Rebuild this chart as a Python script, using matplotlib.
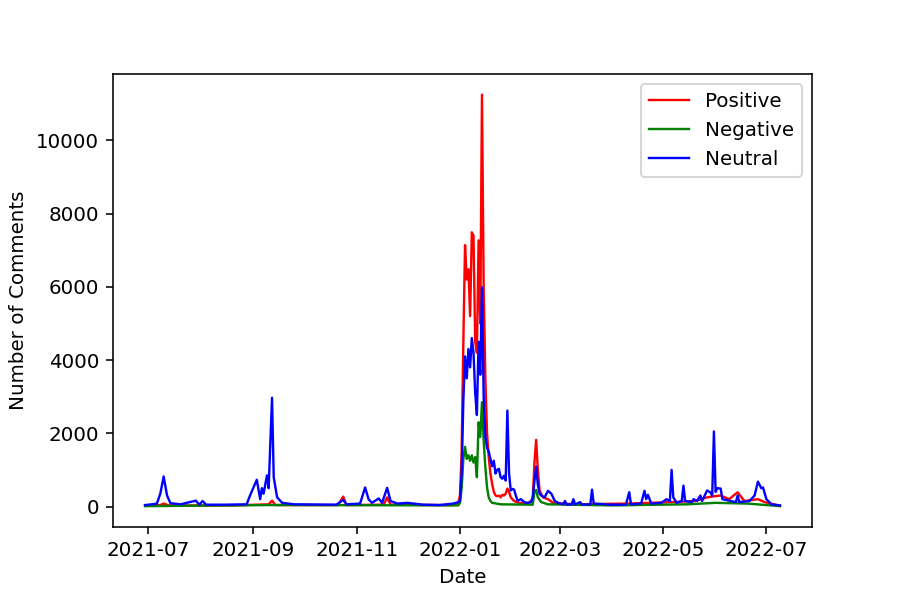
import matplotlib.pyplot as plt
import pandas as pd

# key points (date, comments per day)
neu_dates = ["2021-06-29", "2021-07-03", "2021-07-06", "2021-07-08", "2021-07-10", "2021-07-12",
             "2021-07-14", "2021-07-20", "2021-07-29", "2021-07-31", "2021-08-02", "2021-08-04",
             "2021-08-15", "2021-08-28", "2021-08-30", "2021-09-03", "2021-09-05", "2021-09-06",
             "2021-09-07", "2021-09-09", "2021-09-10", "2021-09-12", "2021-09-13", "2021-09-15",
             "2021-09-18", "2021-09-25", "2021-10-20", "2021-10-24", "2021-10-26", "2021-11-03",
             "2021-11-06", "2021-11-08", "2021-11-10", "2021-11-14", "2021-11-16", "2021-11-19",
             "2021-11-21", "2021-11-25", "2021-12-01", "2021-12-10", "2021-12-20", "2021-12-28",
             "2021-12-31", "2022-01-01", "2022-01-02", "2022-01-03", "2022-01-04", "2022-01-05",
             "2022-01-06", "2022-01-07", "2022-01-08", "2022-01-09", "2022-01-10", "2022-01-11",
             "2022-01-12", "2022-01-13", "2022-01-14", "2022-01-15", "2022-01-16", "2022-01-17",
             "2022-01-18", "2022-01-19", "2022-01-20", "2022-01-21", "2022-01-22", "2022-01-23",
             "2022-01-24", "2022-01-25", "2022-01-26", "2022-01-27", "2022-01-28", "2022-01-29",
             "2022-01-30", "2022-01-31", "2022-02-01", "2022-02-02", "2022-02-03", "2022-02-04",
             "2022-02-06", "2022-02-08", "2022-02-10", "2022-02-12", "2022-02-13", "2022-02-14",
             "2022-02-15", "2022-02-16", "2022-02-17", "2022-02-18", "2022-02-20", "2022-02-22",
             "2022-02-24", "2022-02-26", "2022-03-01", "2022-03-03", "2022-03-04", "2022-03-05",
             "2022-03-08", "2022-03-09", "2022-03-10", "2022-03-13", "2022-03-14", "2022-03-19",
             "2022-03-20", "2022-03-21", "2022-03-31", "2022-04-09", "2022-04-11", "2022-04-12",
             "2022-04-18", "2022-04-20", "2022-04-21", "2022-04-22", "2022-04-24", "2022-04-30",
             "2022-05-03", "2022-05-05", "2022-05-06", "2022-05-07", "2022-05-09", "2022-05-12",
             "2022-05-13", "2022-05-14", "2022-05-18", "2022-05-19", "2022-05-21", "2022-05-23",
             "2022-05-24", "2022-05-27", "2022-05-29", "2022-05-30", "2022-05-31", "2022-06-01",
             "2022-06-02", "2022-06-04", "2022-06-05", "2022-06-10", "2022-06-13", "2022-06-14",
             "2022-06-15", "2022-06-21", "2022-06-24", "2022-06-26", "2022-06-28", "2022-06-29",
             "2022-07-01", "2022-07-04", "2022-07-09"]
neu_vals = [40, 60, 80, 350, 820, 300,
            90, 60, 160, 50, 150, 50,
            50, 60, 300, 730, 200, 500,
            350, 850, 500, 2970, 800, 250,
            100, 60, 50, 180, 60, 80,
            520, 200, 100, 220, 100, 510,
            150, 80, 100, 50, 40, 80,
            120, 150, 900, 2900, 4100, 3500,
            4300, 3800, 4600, 4200, 3100, 2500,
            4500, 3600, 5990, 3000, 1900, 1600,
            1500, 1300, 1100, 1250, 900, 1000,
            1030, 800, 760, 840, 710, 2620,
            900, 440, 480, 460, 300, 160,
            200, 120, 100, 120, 250, 700,
            1090, 600, 350, 300, 250, 430,
            350, 150, 80, 60, 150, 50,
            60, 200, 60, 120, 50, 60,
            460, 80, 50, 50, 390, 60,
            80, 430, 200, 320, 80, 100,
            200, 150, 1000, 250, 100, 150,
            570, 150, 120, 200, 150, 300,
            150, 440, 380, 300, 2050, 400,
            500, 490, 200, 150, 120, 300,
            120, 150, 300, 680, 500, 520,
            200, 60, 30]

pos_dates = ["2021-06-29", "2021-07-08", "2021-07-10", "2021-07-13", "2021-08-20", "2021-09-10",
             "2021-09-12", "2021-09-14", "2021-10-21", "2021-10-24", "2021-10-26", "2021-11-17",
             "2021-11-19", "2021-11-21", "2021-12-28", "2021-12-31", "2022-01-01", "2022-01-02",
             "2022-01-03", "2022-01-04", "2022-01-05", "2022-01-06", "2022-01-07", "2022-01-08",
             "2022-01-09", "2022-01-10", "2022-01-11", "2022-01-12", "2022-01-13", "2022-01-14",
             "2022-01-15", "2022-01-16", "2022-01-17", "2022-01-18", "2022-01-19", "2022-01-20",
             "2022-01-21", "2022-01-22", "2022-01-23", "2022-01-24", "2022-01-25", "2022-01-26",
             "2022-01-27", "2022-01-28", "2022-01-29", "2022-01-30", "2022-01-31", "2022-02-02",
             "2022-02-05", "2022-02-10", "2022-02-13", "2022-02-14", "2022-02-15", "2022-02-16",
             "2022-02-17", "2022-02-19", "2022-02-22", "2022-02-25", "2022-03-10", "2022-04-10",
             "2022-05-06", "2022-05-20", "2022-05-27", "2022-05-31", "2022-06-04", "2022-06-09",
             "2022-06-14", "2022-06-18", "2022-06-26", "2022-06-30", "2022-07-09"]
pos_vals = [20, 40, 80, 30, 30, 60,
            160, 40, 40, 270, 40, 50,
            250, 50, 40, 100, 300, 1500,
            4500, 7140, 6200, 6480, 5200, 7490,
            7400, 4500, 4200, 7270, 5000, 11250,
            6000, 3500, 2000, 1340, 900, 620,
            400, 300, 280, 300, 250, 320,
            300, 350, 490, 400, 250, 150,
            100, 80, 200, 1200, 1820, 1000,
            440, 250, 200, 100, 60, 80,
            120, 150, 250, 280, 300, 200,
            390, 150, 200, 120, 20]

neg_dates = ["2021-06-29", "2021-09-12", "2021-12-31", "2022-01-01", "2022-01-02", "2022-01-03",
             "2022-01-04", "2022-01-05", "2022-01-06", "2022-01-07", "2022-01-08", "2022-01-09",
             "2022-01-10", "2022-01-11", "2022-01-12", "2022-01-13", "2022-01-14", "2022-01-15",
             "2022-01-16", "2022-01-17", "2022-01-18", "2022-01-19", "2022-01-20", "2022-01-25",
             "2022-02-13", "2022-02-14", "2022-02-15", "2022-02-16", "2022-02-18", "2022-02-22",
             "2022-04-01", "2022-05-15", "2022-06-01", "2022-06-20", "2022-07-09"]
neg_vals = [10, 40, 30, 100, 500, 1300,
            1630, 1300, 1400, 1250, 1400, 1200,
            1350, 800, 2300, 1900, 2850, 1800,
            1060, 520, 250, 150, 100, 60,
            50, 400, 450, 250, 120, 60,
            30, 60, 100, 80, 10]

plt.figure(figsize=(905 / 143, 603 / 143), dpi=143)
ax = plt.axes([0.1252, 0.1265, 0.7717, 0.7507])
ax.plot(pd.to_datetime(pos_dates), pos_vals, color='red', lw=1.2, label='Positive')
ax.plot(pd.to_datetime(neg_dates), neg_vals, color='green', lw=1.2, label='Negative')
ax.plot(pd.to_datetime(neu_dates), neu_vals, color='blue', lw=1.2, label='Neutral')
ax.set_xlabel('Date')
ax.set_ylabel('Number of Comments')
ax.legend()
plt.savefig('out.png', dpi=143)
